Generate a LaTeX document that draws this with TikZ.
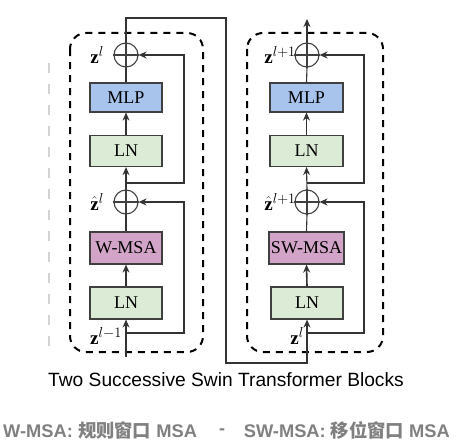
\documentclass[tikz,border=0pt]{standalone}
\usepackage{fontspec}
\setmainfont{Liberation Serif}
\newfontfamily\capfont{Liberation Sans}
\newfontfamily\cjkfont{Noto Sans CJK SC}
\usetikzlibrary{arrows.meta}
\definecolor{mlpblue}{RGB}{168,196,236}
\definecolor{lngreen}{RGB}{220,235,214}
\definecolor{msapink}{RGB}{210,165,200}
\definecolor{boxline}{RGB}{64,64,64}
\definecolor{legendgray}{RGB}{128,128,128}
\begin{document}
\begin{tikzpicture}[x=1pt,y=-1pt,
  blk/.style={draw=boxline,line width=1.2pt,minimum width=72pt,minimum height=31pt,inner sep=0pt,font=\fontsize{18}{20}\selectfont},
  addop/.style={draw=boxline,circle,line width=1.1pt,minimum size=24pt,inner sep=0pt},
  conn/.style={draw=boxline!80!black,line width=1.1pt},
  arr/.style={conn,-{Stealth[length=8pt,width=7pt]}},
  dbox/.style={draw=black,line width=2pt,dash pattern=on 7pt off 6pt,rounded corners=16pt},
  lab/.style={font=\fontsize{19}{21}\selectfont,inner sep=0pt}]
\useasboundingbox (0,0) rectangle (465,444);
% faint guide line
\draw[gray!35,line width=1.8pt,dash pattern=on 10pt off 11pt] (49,63) -- (49,355);
% dashed block outlines
\draw[dbox] (70,33) rectangle (203,352);
\draw[dbox] (247,33) rectangle (383,352);
% ---------- left block ----------
\node[addop] (a1) at (126,55) {};
\draw[boxline,line width=1.1pt] (a1.north) -- (a1.south) (a1.west) -- (a1.east);
\node[blk,fill=mlpblue,minimum height=29pt] (mlp1) at (126,97.5) {MLP};
\node[blk,fill=lngreen] (ln1b) at (126,151) {LN};
\node[addop] (a2) at (126,202) {};
\draw[boxline,line width=1.1pt] (a2.north) -- (a2.south) (a2.west) -- (a2.east);
\node[blk,fill=msapink,minimum height=32pt] (msa1) at (126,248) {W-MSA};
\node[blk,fill=lngreen,minimum height=32pt] (ln1a) at (126,303) {LN};
\coordinate (in1) at (126,357);
\coordinate (b1a) at (126,333);
\coordinate (b1b) at (126,183);
\draw[arr] (in1) -- (ln1a.south);
\draw[arr,line width=1.6pt] (ln1a.north) -- (msa1.south);
\draw[conn] (msa1.north) -- (a2.south);
\draw[arr] (a2.north) -- (ln1b.south);
\draw[arr] (ln1b.north) -- (mlp1.south);
\draw[conn] (mlp1.north) -- (a1.south);
\draw[arr] (b1a) -- (184,333) -- (184,202) -- (a2.east);
\draw[arr] (b1b) -- (184,183) -- (184,55) -- (a1.east);
\node[lab,anchor=east] (z1) at (104,55) {$\mathbf{z}^{l}$};
\node[lab,anchor=east] (zh1) at (104,202) {$\hat{\mathbf{z}}^{l}$};
\node[lab,anchor=east] (z0) at (122,336) {$\mathbf{z}^{l-1}$};
% ---------- right block ----------
\node[addop] (c1) at (307,55) {};
\draw[boxline,line width=1.1pt] (c1.north) -- (c1.south) (c1.west) -- (c1.east);
\node[blk,fill=mlpblue,minimum height=29pt,minimum width=73pt] (mlp2) at (306.5,97.5) {MLP};
\node[blk,fill=lngreen,minimum width=73pt] (ln2b) at (306.5,151) {LN};
\node[addop] (c2) at (307,202) {};
\draw[boxline,line width=1.1pt] (c2.north) -- (c2.south) (c2.west) -- (c2.east);
\node[blk,fill=msapink,minimum height=32pt,minimum width=75pt] (msa2) at (306.5,248) {SW-MSA};
\node[blk,fill=lngreen,minimum height=32pt] (ln2a) at (307,303) {LN};
\coordinate (b2a) at (307,333);
\coordinate (b2b) at (307,183);
\coordinate (out2) at (307,19);
\draw[arr] (a1.north) -- (126,18) -- (226,18) -- (226,363) -- (307,363) -- (ln2a.south);
\draw[arr,line width=1.6pt] (ln2a.north) -- (msa2.south);
\draw[conn] (msa2.north) -- (c2.south);
\draw[arr] (c2.north) -- (ln2b.south);
\draw[arr] (ln2b.north) -- (mlp2.south);
\draw[conn] (mlp2.north) -- (c1.south);
\draw[arr] (c1.north) -- (out2);
\draw[arr] (b2a) -- (364,333) -- (364,202) -- (c2.east);
\draw[arr] (b2b) -- (364,183) -- (364,55) -- (c1.east);
\node[lab,anchor=east] (z3) at (296,55) {$\mathbf{z}^{l+1}$};
\node[lab,anchor=east] (zh2) at (296,202) {$\hat{\mathbf{z}}^{l+1}$};
\node[lab,anchor=east] (z2) at (304,336) {$\mathbf{z}^{l}$};
% ---------- captions ----------
\node[font=\capfont\fontsize{19.2}{21}\selectfont,inner sep=0pt] (cap) at (226,380) {Two Successive Swin Transformer Blocks};
\node[font=\capfont\bfseries\fontsize{18.3}{20}\selectfont,text=legendgray,inner sep=0pt,anchor=west] (legL) at (3,430) {W-MSA: {\cjkfont\bfseries 规则窗口} MSA};
\node[font=\capfont\bfseries\fontsize{18}{20}\selectfont,text=legendgray,inner sep=0pt] (legM) at (222,432) {-};
\node[font=\capfont\bfseries\fontsize{18.3}{20}\selectfont,text=legendgray,inner sep=0pt,anchor=east] (legR) at (450,430) {SW-MSA: {\cjkfont\bfseries 移位窗口} MSA};
\end{tikzpicture}
\end{document}
